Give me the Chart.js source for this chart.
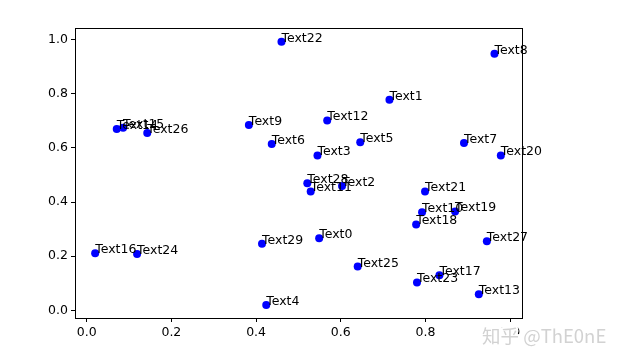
<!DOCTYPE html>
<html>
<head>
<meta charset="utf-8">
<script src="https://cdn.jsdelivr.net/npm/chart.js@4/dist/chart.umd.min.js"></script>
<style>
  html, body { margin: 0; padding: 0; background: #fff; }
  canvas { display: block; }
</style>
</head>
<body>
<canvas id="chart" width="626" height="362"></canvas>
<script>
// point labels and coordinates
const names = [
  "Text0", "Text1", "Text2", "Text3", "Text4", "Text5", "Text6", "Text7", "Text8", "Text9",
  "Text10", "Text11", "Text12", "Text13", "Text14", "Text15", "Text16", "Text17", "Text18", "Text19",
  "Text20", "Text21", "Text22", "Text23", "Text24", "Text25", "Text26", "Text27", "Text28", "Text29"
];
const xs = [
  0.549, 0.715, 0.603, 0.545, 0.424, 0.646, 0.437, 0.891, 0.963, 0.383,
  0.792, 0.529, 0.568, 0.926, 0.071, 0.086, 0.020, 0.833, 0.778, 0.870,
  0.978, 0.799, 0.460, 0.780, 0.119, 0.640, 0.143, 0.945, 0.521, 0.414
];
const ys = [
  0.266, 0.777, 0.459, 0.572, 0.020, 0.620, 0.614, 0.618, 0.947, 0.684,
  0.362, 0.439, 0.701, 0.060, 0.669, 0.674, 0.211, 0.130, 0.317, 0.365,
  0.572, 0.439, 0.991, 0.103, 0.208, 0.162, 0.655, 0.255, 0.469, 0.246
];
const xTicks = [0.0, 0.2, 0.4, 0.6, 0.8, 1.0];
const yTicks = [0.0, 0.2, 0.4, 0.6, 0.8, 1.0];

const font = "DejaVu Sans";

const labelPlugin = {
  id: "labels",
  afterDatasetsDraw(chart) {
    const ctx = chart.ctx;
    const meta = chart.getDatasetMeta(0);
    ctx.save();
    ctx.fillStyle = "#000";
    ctx.font = "12.5px '" + font + "'";
    ctx.textAlign = "left";
    ctx.textBaseline = "alphabetic";
    meta.data.forEach((pt, i) => {
      ctx.fillText(names[i], pt.x, pt.y);
    });
    ctx.restore();
  },
  afterDraw(chart) {
    const ctx = chart.ctx;
    const a = chart.chartArea;
    ctx.save();
    ctx.strokeStyle = "#000";
    ctx.lineWidth = 1;
    ctx.strokeRect(Math.round(a.left) + 0.5, Math.round(a.top) + 0.5,
      Math.round(a.right - a.left), Math.round(a.bottom - a.top));
    // watermark, with a white halo that hides what is under it
    ctx.font = "18.5px 'Noto Sans CJK SC'";
    ctx.textBaseline = "middle";
    ctx.lineJoin = "round";
    ctx.strokeStyle = "#fff";
    ctx.lineWidth = 4;
    ctx.strokeText("知乎 @ThE0nE", 482, 336);
    ctx.fillStyle = "#d2d2d2";
    ctx.fillText("知乎 @ThE0nE", 482, 336);
    ctx.restore();
  }
};

new Chart(document.getElementById("chart"), {
  type: "scatter",
  data: {
    datasets: [{
      data: xs.map((x, i) => ({ x: x, y: ys[i] })),
      backgroundColor: "#0000ff",
      borderColor: "#0000ff",
      pointRadius: 4,
      pointHoverRadius: 4,
      borderWidth: 0
    }]
  },
  options: {
    responsive: false,
    animation: false,
    events: [],
    layout: { padding: { left: 0, top: 28, right: 104, bottom: 0 } },
    plugins: {
      legend: { display: false },
      tooltip: { enabled: false }
    },
    scales: {
      x: {
        type: "linear",
        min: -0.0276,
        max: 1.028,
        afterBuildTicks: (s) => { s.ticks = xTicks.map(v => ({ value: v })); },
        afterFit: (s) => { s.height = 44; },
        grid: { drawOnChartArea: false, drawTicks: true, tickLength: 4, color: "#000" },
        border: { display: false },
        ticks: {
          color: "#000",
          padding: 3,
          maxRotation: 0,
          font: { family: font, size: 12.5 },
          callback: (v) => Number(v).toFixed(1)
        }
      },
      y: {
        type: "linear",
        min: -0.028,
        max: 1.042,
        afterBuildTicks: (s) => { s.ticks = yTicks.map(v => ({ value: v })); },
        afterFit: (s) => { s.width = 75; },
        grid: { drawOnChartArea: false, drawTicks: true, tickLength: 4, color: "#000" },
        border: { display: false },
        ticks: {
          color: "#000",
          padding: 3,
          font: { family: font, size: 12.5 },
          callback: (v) => Number(v).toFixed(1)
        }
      }
    }
  },
  plugins: [labelPlugin]
});
</script>
</body>
</html>
